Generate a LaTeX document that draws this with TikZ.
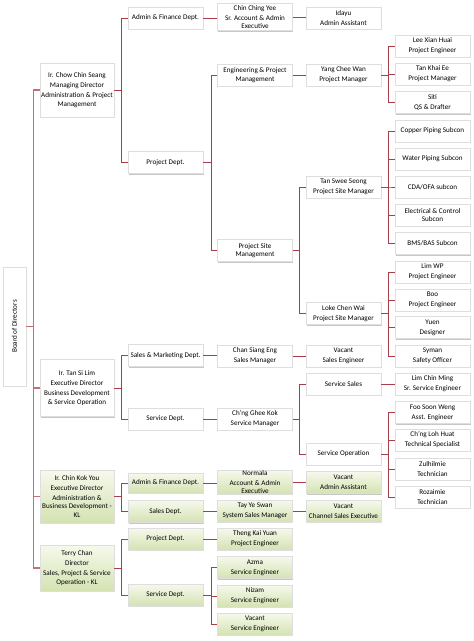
\documentclass[tikz,border=0pt]{standalone}
\usepackage{fontspec}
\setmainfont{Carlito}
\usetikzlibrary{shadows}
\definecolor{lnred}{RGB}{168,62,74}
\definecolor{trunkred}{RGB}{196,110,118}
\definecolor{boxline}{RGB}{222,222,222}
\definecolor{gtop}{RGB}{246,249,236}
\definecolor{gbot}{RGB}{212,226,178}
\newcommand\pb{\\[1.7pt]}
\tikzset{
  box/.style={draw=boxline, line width=0.3pt, fill=white, align=center, inner sep=0pt,
    minimum width=75pt, minimum height=22pt,
    font=\fontsize{7.15}{8.3}\selectfont,
    drop shadow={shadow xshift=0.8pt, shadow yshift=-1.3pt, opacity=0.22, fill=black}},
  gbox/.style={box, top color=gtop, bottom color=gbot, draw=boxline},
  conn/.style={draw=lnred, line width=0.7pt},
  trunk/.style={draw=trunkred, line width=1.1pt},
}
\begin{document}
\begin{tikzpicture}[x=1pt, y=-1pt]
\useasboundingbox (0,0) rectangle (474,641);

% Board
\node[box, minimum width=23pt, minimum height=119pt] (board) at (14.5,326.5) {};
\node[rotate=90, font=\fontsize{7.15}{8.3}\selectfont] (boardtxt) at (board.center) {Board of Directors};

% Directors
\node[box, minimum width=74pt, minimum height=54pt] (chow) at (77,90) {Ir. Chow Chin Seang\pb Managing Director\pb Administration \& Project\\ Management};
\node[box, minimum width=74pt, minimum height=57pt] (tan) at (77,388) {Ir. Tan Si Lim\pb Executive Director\pb Business Development\\ \& Service Operation};
\node[gbox, minimum width=74pt, minimum height=53pt] (chin) at (77,496.5) {Ir. Chin Kok You\pb Executive Director\pb Administration \&\\ Business Development -\\ KL};
\node[gbox, minimum width=74pt, minimum height=46pt] (terry) at (77,568) {Terry Chan\pb Director\pb Sales, Project \& Service\\ Operation - KL};

% Level 2
\node[box] (af1) at (165.5,18) {Admin \& Finance Dept.};
\node[box] (pd1) at (165.5,162.5) {Project Dept.};
\node[box] (smd) at (165.5,355.5) {Sales \& Marketing Dept.};
\node[box] (sd1) at (165.5,419) {Service Dept.};
\node[gbox, minimum height=20pt] (af2) at (165.5,483) {Admin \& Finance Dept.};
\node[gbox] (sld) at (165.5,511.5) {Sales Dept.};
\node[gbox] (pd2) at (165.5,539) {Project Dept.};
\node[gbox] (sd2) at (165.5,595) {Service Dept.};

% Level 3
\node[box, minimum height=27pt] (ccy) at (255,17) {Chin Ching Yee\pb Sr. Account \& Admin\\ Executive};
\node[box] (epm) at (255,75) {Engineering \& Project\\ Management};
\node[box] (psm) at (255,250.5) {Project Site\\ Management};
\node[box] (cse) at (255,356) {Chan Siang Eng\pb Sales Manager};
\node[box] (cgk) at (255,419) {Ch'ng Ghee Kok\pb Service Manager};
\node[gbox, minimum height=24pt] (nor) at (255,482) {Normala\pb Account \& Admin\\ Executive};
\node[gbox] (tys) at (255,511) {Tay Ye Swan\pb System Sales Manager};
\node[gbox] (tky) at (255,539) {Theng Kai Yuan\pb Project Engineer};
\node[gbox] (azma) at (255,567.5) {Azma\pb Service Engineer};
\node[gbox] (nizam) at (255,596) {Nizam\pb Service Engineer};
\node[gbox] (vse) at (255,624) {Vacant\pb Service Engineer};

% Level 4
\node[box] (idayu) at (343.5,18) {Idayu\pb Admin Assistant};
\node[box] (ycw) at (343.5,75) {Yang Chee Wan\pb Project Manager};
\node[box] (tss) at (343.5,187) {Tan Swee Seong\pb Project Site Manager};
\node[box] (lcw) at (343.5,313.5) {Loke Chen Wai\pb Project Site Manager};
\node[box] (vsales) at (343.5,356) {Vacant\pb Sales Engineer};
\node[box] (ssales) at (343.5,384) {Service Sales};
\node[box] (sop) at (343.5,454) {Service Operation};
\node[gbox] (vaa) at (343.5,482.5) {Vacant\pb Admin Assistant};
\node[gbox] (vcse) at (343.5,511) {Vacant\pb Channel Sales Executive};

% Level 5
\node[box] (lxh) at (432.5,46) {Lee Xian Huai\pb Project Engineer};
\node[box] (tke) at (432.5,74) {Tan Khai Ee\pb Project Manager};
\node[box] (siti) at (432.5,102.5) {Siti\pb QS \& Drafter};
\node[box] (cps) at (432.5,131) {Copper Piping Subcon};
\node[box] (wps) at (432.5,159) {Water Piping Subcon};
\node[box] (cda) at (432.5,187) {CDA/OFA subcon};
\node[box] (ecs) at (432.5,215) {Electrical \& Control\\ Subcon};
\node[box] (bms) at (432.5,243.5) {BMS/BAS Subcon};
\node[box] (limwp) at (432.5,272) {Lim WP\pb Project Engineer};
\node[box] (boo) at (432.5,300) {Boo\pb Project Engineer};
\node[box] (yuen) at (432.5,327.5) {Yuen\pb Designer};
\node[box] (syman) at (432.5,356) {Syman\pb Safety Officer};
\node[box] (lcm) at (432.5,384) {Lim Chin Ming\pb Sr. Service Engineer};
\node[box] (fsw) at (432.5,412.5) {Foo Soon Weng\pb Asst. Engineer};
\node[box] (clh) at (432.5,440) {Ch'ng Loh Huat\pb Technical Specialist};
\node[box] (zul) at (432.5,469) {Zulhilmie\pb Technician};
\node[box] (roz) at (432.5,497) {Rozaimie\pb Technician};

% Trunk
\foreach \d in {chow,tan,chin,terry}
  \draw[trunk] (board.east) -- ++(7,0) |- (\d.west);

% Bus connections
\foreach \a/\b in {chow/af1, chow/pd1, tan/smd, tan/sd1, chin/af2, chin/sld, terry/pd2, terry/sd2}
  \draw[conn] (\a.east) -- ++(7,0) |- (\b.west);
\foreach \a/\b in {pd1/epm, pd1/psm, sd2/azma, sd2/nizam, sd2/vse}
  \draw[conn] (\a.east) -- ++(8,0) |- (\b.west);
\foreach \a/\b in {psm/tss, psm/lcw, cgk/ssales, cgk/sop,
  ycw/lxh, ycw/tke, ycw/siti,
  tss/cps, tss/wps, tss/cda, tss/ecs, tss/bms,
  lcw/limwp, lcw/boo, lcw/yuen, lcw/syman,
  sop/fsw, sop/clh, sop/zul, sop/roz}
  \draw[conn] (\a.east) -- ++(7,0) |- (\b.west);

% Straight connections
\foreach \a/\b in {af1/ccy, ccy/idayu, epm/ycw, smd/cse, cse/vsales, sd1/cgk,
  ssales/lcm, af2/nor, nor/vaa, sld/tys, tys/vcse, pd2/tky}
  \draw[conn] (\a.east) -- (\a.east -| \b.west);
\end{tikzpicture}
\end{document}
